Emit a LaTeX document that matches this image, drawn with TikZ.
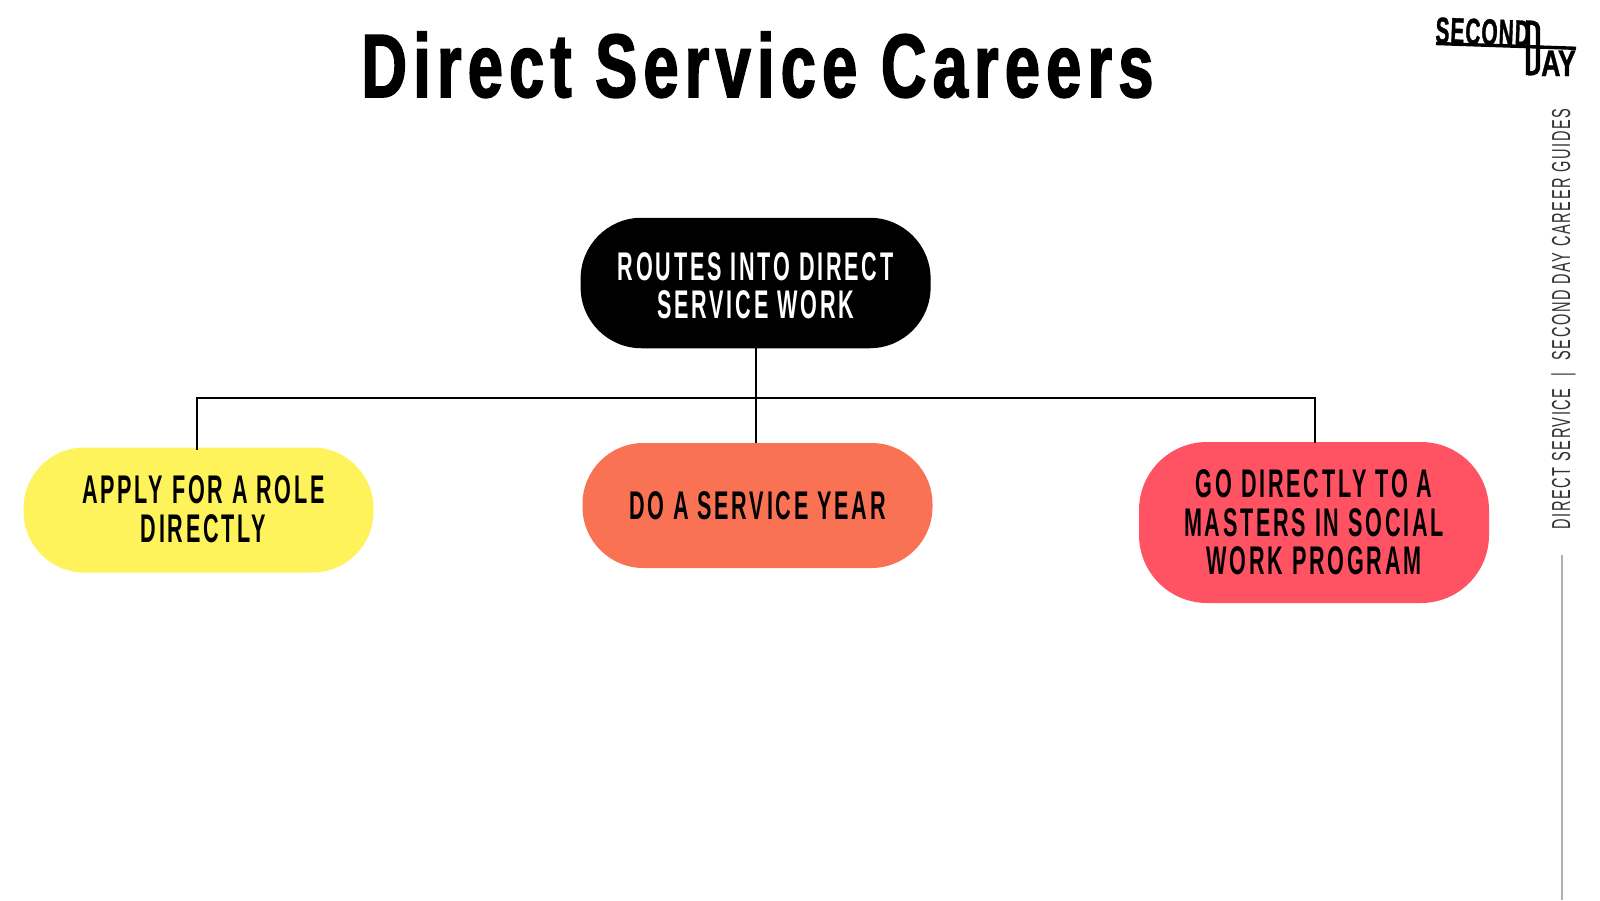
\documentclass[tikz,border=0pt]{standalone}
\usepackage{fontspec}
\setmainfont{Liberation Sans}
\newfontfamily\cardfont[FakeStretch=0.54,LetterSpace=7]{Liberation Sans Bold}
\newfontfamily\titlefont[FakeStretch=0.70,LetterSpace=7,FakeBold=1.8]{Liberation Sans Bold}
\newfontfamily\sidefont[FakeStretch=0.56,LetterSpace=6.2]{Liberation Sans}
\newfontfamily\logofont[FakeStretch=0.56,LetterSpace=3,FakeBold=1]{Liberation Sans Bold}
\newfontfamily\logowide[FakeStretch=0.72,FakeBold=1]{Liberation Sans Bold}
\definecolor{cardyellow}{HTML}{FFF35C}
\definecolor{cardorange}{HTML}{F97254}
\definecolor{cardred}{HTML}{FF5364}
\definecolor{sidegray}{HTML}{B0B0B0}
\definecolor{sidetext}{HTML}{333333}
\tikzset{
  pill/.style={rectangle,rounded corners=61pt,minimum width=350pt,align=center,inner sep=0pt,
    font=\cardfont\fontsize{40}{38.5}\selectfont},
  wire/.style={draw=black,line width=2pt}
}
\begin{document}
\begin{tikzpicture}[x=1pt,y=-1pt]
\useasboundingbox (0,0) rectangle (1600,900);
\fill[white] (0,0) rectangle (1600,900);
\node[anchor=base,font=\titlefont\fontsize{90}{90}\selectfont] (title) at (757.5,97) {Direct Service Careers};
\node[pill,fill=black,text=white,minimum height=130.5pt] (root) at (755.6,283) {\rule{0pt}{33pt}ROUTES INTO DIRECT\\SERVICE WORK};
\node[pill,fill=cardyellow,text=black,minimum height=125pt] (apply) at (198.5,510) {\hspace*{10pt}\raisebox{2pt}{APPLY FOR A ROLE}\\\hspace*{10pt}\raisebox{2pt}{DIRECTLY}};
\node[pill,fill=cardorange,text=black,minimum height=125pt] (year) at (757.5,505.5) {DO A SERVICE YEAR};
\node[pill,rounded corners=68pt,fill=cardred,text=black,minimum height=161pt] (masters) at (1314,522.5) {GO DIRECTLY TO A\\MASTERS IN SOCIAL\\WORK PROGRAM};
\coordinate (busleft) at (197,397.5);
\coordinate (busright) at (1315,397.5);
\coordinate (dropleft) at (197,450);
\coordinate (dropright) at (1315,443);
\coordinate (dropmid) at (756,443);
\coordinate (rootdrop) at (756,348);
\draw[wire] (rootdrop) -- (dropmid);
\draw[wire,line join=miter] (dropleft) -- (busleft) -- (busright) -- (dropright);
% side strip
\node[rotate=90,anchor=base,text=sidetext,font=\sidefont\fontsize{26}{26}\selectfont] (side) at (1570,319) {DIRECT SERVICE\hspace{12pt}|\hspace{12pt}SECOND DAY CAREER GUIDES};
\coordinate (ruletop) at (1562,555);
\coordinate (rulebot) at (1562,900);
\draw[sidegray,line width=1.5pt] (ruletop) -- (rulebot);
% logo
\node[anchor=base west,inner sep=0pt,rotate=-2,font=\logofont\fontsize{37}{37}\selectfont] (logosecond) at (1435,43) {SECOND};
\node[anchor=base west,inner sep=0pt,font=\logowide\fontsize{37}{37}\selectfont] (logoay) at (1541,76) {AY};
\coordinate (la) at (1436,43.5);
\coordinate (lb) at (1576,48.3);
\draw[line width=3.4pt] (la) -- (lb);
\draw[line width=4.4pt] (1528,75) -- (1528,22.5) .. controls (1537,22.5) and (1538,25) .. (1538,31) -- (1538,65) .. controls (1538,72) and (1536,73.5) .. (1528,73.5);
\end{tikzpicture}
\end{document}
